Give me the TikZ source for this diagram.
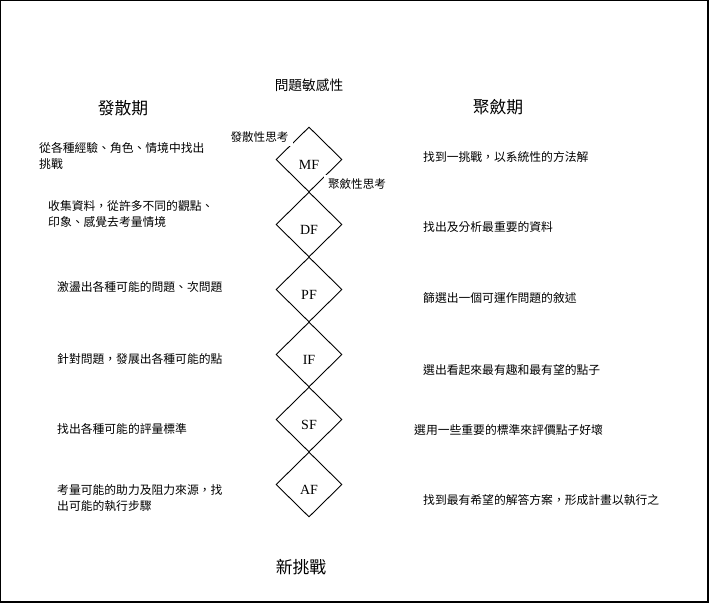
\documentclass[tikz,border=0pt]{standalone}
\usepackage{fontspec}
\setmainfont{Liberation Serif}
\newfontfamily\cjk{Noto Sans CJK TC}
\usetikzlibrary{shapes.geometric}

\begin{document}
\begin{tikzpicture}[x=1pt, y=-1pt,
    fdia/.style={draw, diamond, minimum width=66pt, minimum height=65pt, inner sep=0pt, line width=0.9pt},
    flab/.style={inner sep=0pt, font=\fontsize{14}{14}\selectfont},
    txt/.style={anchor=west, align=left, inner sep=0pt, font=\cjk\fontsize{11.8}{16}\selectfont},
    ttl/.style={inner sep=0pt, font=\cjk\fontsize{16.8}{20}\selectfont},
    think/.style={fill=white, inner sep=4pt, font=\cjk\fontsize{11.6}{14}\selectfont}]
\useasboundingbox (0,0) rectangle (709,603);
\draw[line width=1pt] (0.5,0.5) rectangle (708,602);
\draw[line width=1.8pt] (708.1,0) -- (708.1,601.8) -- (0,601.8);
\foreach \f [count=\i] in {MF, DF, PF, IF, SF, AF}
    {
    \node[fdia] (d\i) at (309, 94.5+65*\i) {};
    \node[flab] (l\i) at (309, 99.5+65*\i) {\f};
    }
\node[think] (g1) at (259.5, 137) {發散性思考};
\node[think] (g2) at (357, 184) {聚斂性思考};
\node[inner sep=0pt, font=\cjk\fontsize{13.7}{16}\selectfont] (t0) at (309, 85) {問題敏感性};
\node[ttl] (t1) at (123, 108) {發散期};
\node[ttl] (t2) at (498, 107) {聚斂期};
\node[ttl] (t3) at (301, 567) {新挑戰};
\node[txt] (a1) at (39, 155.5) {從各種經驗、角色、情境中找出\\挑戰};
\node[txt] (a2) at (48, 214) {收集資料，從許多不同的觀點、\\印象、感覺去考量情境};
\node[txt] (a3) at (57, 287) {激盪出各種可能的問題、次問題};
\node[txt] (a4) at (57, 359) {針對問題，發展出各種可能的點};
\node[txt] (a5) at (57, 429) {找出各種可能的評量標準};
\node[txt] (a6) at (57, 498) {考量可能的助力及阻力來源，找\\出可能的執行步驟};
\node[txt] (b1) at (423, 157) {找到一挑戰，以系統性的方法解};
\node[txt] (b2) at (423, 227) {找出及分析最重要的資料};
\node[txt] (b3) at (423, 298) {篩選出一個可運作問題的敘述};
\node[txt] (b4) at (423, 370) {選出看起來最有趣和最有望的點子};
\node[txt] (b5) at (414, 430) {選用一些重要的標準來評價點子好壞};
\node[txt] (b6) at (423, 500) {找到最有希望的解答方案，形成計畫以執行之};
\end{tikzpicture}
\end{document}
